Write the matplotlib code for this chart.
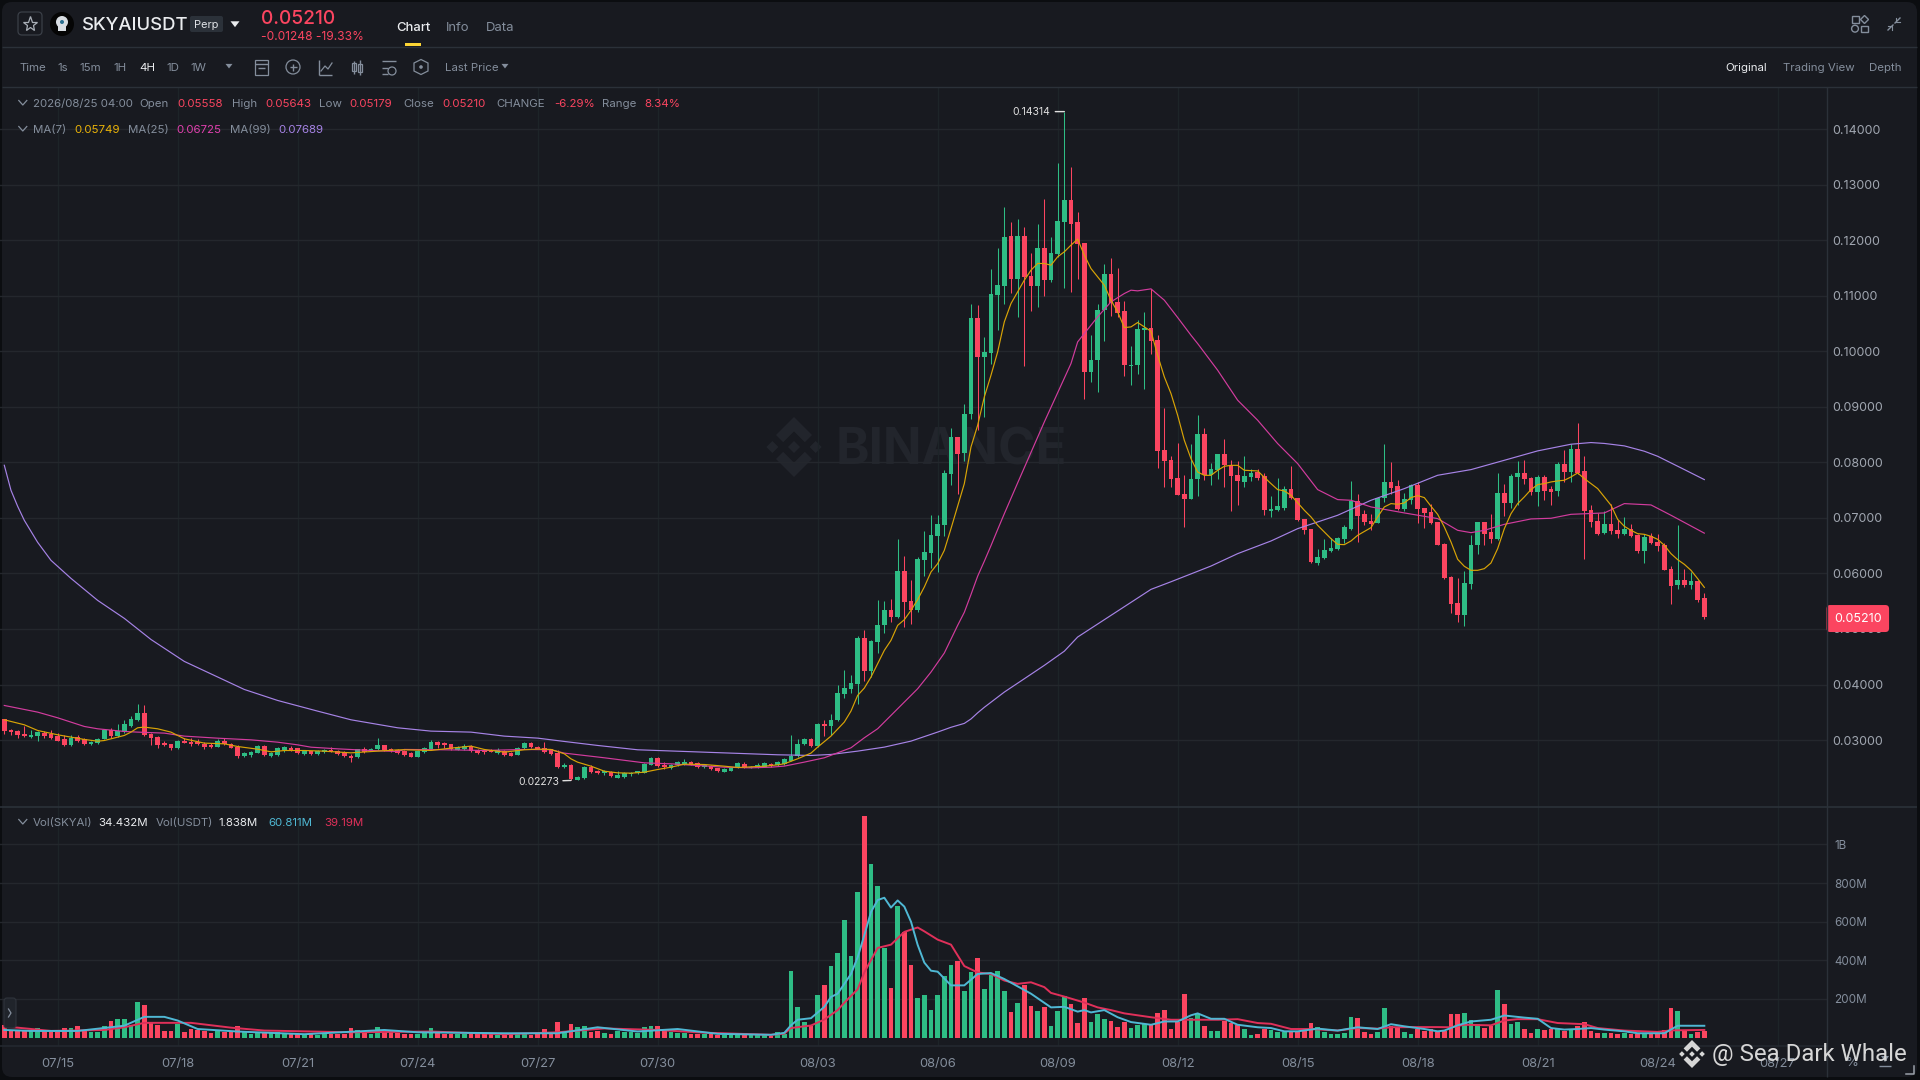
import matplotlib
matplotlib.use("Agg")
import matplotlib.pyplot as plt
from matplotlib.patches import FancyBboxPatch, Polygon, Circle, Rectangle
from matplotlib.ticker import FixedLocator, FuncFormatter

plt.rcParams['font.family'] = ['Inter', 'DejaVu Sans']

opens = [
 .03371,.03173,.03155,.03113,.03053,.03071,.03131,.03101,.03065,.03017,
 .02914,.03047,.03028,.02926,.02944,.03017,.03185,.03065,.03149,.03257,
 .03353,.03485,.03113,.03047,.02950,.02932,.02860,.02992,.02962,.02962,
 .02932,.02908,.02884,.02992,.02926,.02884,.02722,.02740,.02776,.02896,
 .02722,.02734,.02824,.02866,.02854,.02752,.02806,.02752,.02794,.02824,
 .02812,.02782,.02722,.02692,.02836,.02812,.02842,.02908,.02848,.02824,
 .02801,.02765,.02704,.02777,.02831,.02963,.02945,.02921,.02825,.02837,
 .02885,.02825,.02825,.02825,.02771,.02795,.02765,.02729,.02849,.02951,
 .02873,.02861,.02831,.02771,.02512,.02560,.02290,.02320,.02512,.02452,
 .02404,.02434,.02326,.02344,.02386,.02404,.02416,.02560,.02686,.02554,
 .02494,.02548,.02572,.02614,.02584,.02512,.02542,.02494,.02434,.02452,
 .02506,.02578,.02500,.02506,.02524,.02578,.02548,.02566,.02632,.02717,
 .02921,.03011,.02885,.03294,.03246,.03354,.03828,.03912,.04002,.04843,
 .04237,.04765,.05065,.05335,.05215,.06038,.05504,.05335,.06236,.06368,
 .06674,.06878,.07784,.08457,.08169,.08865,.10595,.09898,.09970,.11009,
 .11171,.12072,.11297,.12072,.11357,.11171,.11850,.11279,.11742,.12318,
 .12721,.12318,.11940,.09628,.09838,.10739,.11387,.10889,.10721,.09730,
 .09748,.10378,.10426,.10198,.08217,.08037,.07724,.07436,.07346,.07694,
 .08505,.07766,.07868,.08157,.07946,.07766,.07647,.07737,.07827,.07749,
 .07125,.07137,.07185,.07527,.07365,.06975,.06794,.06194,.06278,.06398,
 .06434,.06626,.06806,.07299,.07064,.06938,.06908,.07365,.07647,.07575,
 .07167,.07317,.07587,.07179,.07107,.06926,.06536,.05936,.05461,.05245,
 .05816,.06506,.06926,.06740,.06614,.07455,.07269,.07737,.07815,.07719,
 .07467,.07737,.07515,.07485,.07965,.07827,.08236,.07845,.07149,.06945,
 .06728,.06884,.06782,.06704,.06806,.06686,.06398,.06668,.06566,.06506,
 .06086,.05786,.05888,.05786,.05858,.05558]
closes = [
 .03155,.03137,.03095,.03071,.03089,.03143,.03065,.03041,.02992,.02908,
 .03041,.02992,.02932,.02962,.03028,.03185,.03065,.03161,.03281,.03371,
 .03485,.03095,.03034,.02920,.02914,.02866,.02992,.02950,.02926,.02932,
 .02884,.02872,.02992,.02932,.02866,.02722,.02764,.02794,.02896,.02728,
 .02776,.02866,.02872,.02830,.02764,.02812,.02752,.02812,.02824,.02800,
 .02752,.02710,.02680,.02842,.02794,.02848,.02914,.02824,.02800,.02764,
 .02734,.02704,.02801,.02855,.02963,.02915,.02903,.02831,.02873,.02897,
 .02795,.02771,.02783,.02783,.02813,.02729,.02717,.02861,.02951,.02867,
 .02843,.02783,.02741,.02512,.02560,.02296,.02338,.02524,.02434,.02410,
 .02452,.02350,.02374,.02404,.02416,.02440,.02578,.02686,.02530,.02512,
 .02554,.02608,.02614,.02560,.02512,.02554,.02476,.02440,.02476,.02500,
 .02584,.02506,.02524,.02548,.02584,.02530,.02602,.02668,.02722,.02933,
 .03017,.02885,.03294,.03252,.03366,.03846,.03930,.04026,.04843,.04237,
 .04783,.05077,.05335,.05209,.06038,.05486,.05347,.06254,.06380,.06698,
 .06897,.07808,.08457,.08157,.08877,.10595,.09898,.09988,.11027,.11189,
 .12060,.11297,.12072,.11339,.11171,.11850,.11279,.11760,.12342,.12721,
 .12288,.11922,.09628,.09850,.10751,.11387,.10871,.10697,.09748,.09760,
 .10396,.10420,.10180,.08205,.08025,.07706,.07418,.07346,.07706,.08505,
 .07766,.07886,.08157,.07946,.07748,.07658,.07755,.07815,.07725,.07137,
 .07167,.07209,.07527,.07353,.06957,.06776,.06206,.06296,.06416,.06464,
 .06638,.06836,.07305,.07028,.06926,.06896,.07365,.07647,.07545,.07167,
 .07347,.07587,.07155,.07095,.06908,.06518,.05918,.05443,.05245,.05828,
 .06518,.06921,.06716,.06614,.07455,.07275,.07749,.07809,.07695,.07467,
 .07731,.07485,.07467,.07965,.07827,.08236,.07815,.07125,.06933,.06716,
 .06884,.06758,.06704,.06800,.06668,.06398,.06656,.06548,.06488,.06068,
 .05774,.05888,.05786,.05858,.05527,.05210]
highs = [
 .03383,.03203,.03173,.03245,.03173,.03161,.03155,.03185,.03131,.03083,
 .03089,.03089,.03040,.02980,.03040,.03191,.03221,.03281,.03353,.03431,
 .03641,.03623,.03131,.03065,.02992,.02932,.03004,.03034,.03034,.03017,
 .02962,.02944,.03022,.03034,.02956,.02914,.02794,.02812,.02914,.02914,
 .02794,.02884,.02902,.02890,.02854,.02824,.02812,.02824,.02842,.02872,
 .02824,.02800,.02752,.02848,.02872,.02854,.03040,.02920,.02860,.02842,
 .02825,.02777,.02825,.02873,.03005,.02981,.02963,.02933,.02885,.02921,
 .02903,.02843,.02843,.02843,.02861,.02813,.02783,.02873,.02957,.02957,
 .02891,.02963,.02843,.02813,.02584,.02572,.02362,.02542,.02554,.02464,
 .02470,.02446,.02452,.02422,.02434,.02452,.02584,.02704,.02692,.02602,
 .02572,.02620,.02662,.02620,.02602,.02566,.02554,.02506,.02494,.02512,
 .02608,.02602,.02536,.02590,.02608,.02590,.02632,.02680,.03083,.03011,
 .03029,.03041,.03300,.03366,.03474,.03996,.04266,.04164,.04867,.04975,
 .04807,.05516,.05498,.05534,.06626,.06308,.05876,.06296,.06758,.07059,
 .07047,.07856,.08625,.08457,.09045,.10859,.10829,.10258,.11477,.11862,
 .12588,.12330,.12378,.12240,.11760,.12282,.12739,.12060,.13381,.14314,
 .13309,.12510,.11952,.10300,.10859,.11568,.11670,.11507,.10901,.10096,
 .10571,.10709,.11117,.10288,.08985,.08108,.08349,.07766,.08337,.08847,
 .08625,.07994,.08157,.08427,.08037,.08018,.08109,.07887,.07887,.07809,
 .07389,.07719,.07575,.07929,.07365,.06987,.06800,.06446,.06626,.06644,
 .06656,.06866,.07659,.07425,.07136,.07064,.07371,.08338,.08007,.07677,
 .07455,.07617,.07647,.07185,.07257,.06932,.06548,.05948,.05918,.06044,
 .06686,.06921,.06926,.07076,.07815,.07617,.07797,.08019,.08037,.07737,
 .07779,.07767,.07569,.08007,.08230,.08338,.08710,.08109,.07233,.07089,
 .07125,.07257,.06957,.07016,.06884,.06716,.06716,.06734,.06716,.06548,
 .06128,.06866,.06086,.06026,.05876,.05643]
lows = [
 .03112,.03083,.03034,.03053,.03040,.02992,.03040,.03022,.02980,.02896,
 .02896,.02962,.02914,.02914,.02926,.03011,.03040,.03053,.03131,.03233,
 .03341,.03071,.02920,.02854,.02902,.02830,.02842,.02944,.02896,.02920,
 .02848,.02860,.02872,.02914,.02860,.02680,.02692,.02704,.02764,.02716,
 .02692,.02716,.02794,.02812,.02752,.02734,.02728,.02740,.02764,.02782,
 .02740,.02692,.02614,.02680,.02764,.02800,.02830,.02800,.02790,.02752,
 .02722,.02692,.02692,.02765,.02813,.02861,.02861,.02813,.02813,.02825,
 .02783,.02741,.02741,.02777,.02753,.02705,.02705,.02723,.02843,.02855,
 .02831,.02765,.02729,.02500,.02500,.02273,.02280,.02308,.02416,.02398,
 .02380,.02344,.02320,.02314,.02362,.02392,.02410,.02548,.02518,.02476,
 .02476,.02542,.02554,.02548,.02500,.02494,.02470,.02434,.02422,.02446,
 .02494,.02500,.02494,.02494,.02512,.02518,.02536,.02554,.02620,.02693,
 .02903,.02873,.02873,.03066,.03084,.03342,.03762,.03846,.03642,.04056,
 .04134,.04567,.04933,.05125,.05203,.05035,.05095,.05305,.05948,.06092,
 .06026,.06674,.07598,.07436,.08025,.08787,.08577,.08817,.09778,.10391,
 .10847,.11051,.10619,.09736,.10727,.10799,.10997,.11249,.11700,.11141,
 .11069,.11309,.09148,.09448,.09268,.10180,.10637,.10619,.09550,.09400,
 .09598,.09328,.09958,.07898,.07556,.07556,.07406,.06830,.07346,.07394,
 .07676,.07586,.07706,.07556,.07124,.07226,.07557,.07665,.07689,.07059,
 .07017,.07119,.07137,.07341,.06951,.06704,.06194,.06158,.06266,.06386,
 .06416,.06548,.06776,.06566,.06866,.06776,.06902,.07287,.07437,.07149,
 .07125,.07257,.06908,.06818,.06896,.06506,.05900,.05293,.05125,.05053,
 .05726,.06356,.06506,.06548,.06608,.07028,.07185,.07227,.07617,.07407,
 .07209,.07317,.07227,.07389,.07647,.07647,.07797,.06254,.06836,.06698,
 .06716,.06716,.06638,.06686,.06656,.06374,.06188,.06536,.06398,.06056,
 .05443,.05714,.05756,.05726,.05485,.05179]
volumes_m = [
 64,41,41,37,37,51,34,34,34,51, 47,59,37,31,31,59,88,95,98,64,
 186,166,76,64,34,34,68,31,42,37, 34,25,37,31,34,61,31,20,31,31,
 27,27,20,24,20,20,17,14,17,17, 20,20,51,41,24,20,54,31,31,25,
 20,20,20,24,47,24,17,20,17,17, 24,17,17,17,14,20,17,20,17,14,
 20,42,20,78,24,68,54,61,30,34, 24,20,34,31,31,24,54,58,58,37,
 27,24,24,20,20,17,20,14,14,14, 14,14,14,14,14,10,27,17,346,156,
 80,58,222,273,370,439,610,422,754,1148, 897,786,464,258,681,544,373,205,219,144,
 219,317,376,397,239,339,412,249,322,346, 239,132,178,271,161,137,156,59,137,214,
 173,76,203,81,120,97,85,56,81,47, 63,71,63,129,142,44,80,225,102,122,
 59,36,36,85,76,64,46,14,20,46, 37,31,29,31,31,37,75,56,31,20,
 20,25,107,100,27,19,31,151,61,54, 31,19,42,34,42,31,34,120,120,129,
 90,71,47,61,246,173,71,81,46,25, 42,37,42,42,34,37,61,81,34,24,
 25,24,20,25,19,19,19,19,19,37, 154,137,37,20,31,34]

ma7_idx = [0,3,5,8,10,12,14,15,17,18,19,20,21,23,25,27,30,33,35,38,40,42,45,48,52,55,59,
 60,64,67,70,72,75,78,80,82,84,85,86,88,90,92,94,96,98,100,102,105,108,110,114,116,117,119,
 121,122,124,126,127,128,129,130,131,132,133,134,135,136,137,138,139,140,141,142,144,145,146,147,148,149,
 150,151,152,153,154,155,156,157,158,159,160,161,162,163,164,165,166,167,168,169,170,171,172,173,174,175,176,177,178,179,
 180,181,182,183,184,185,186,188,190,191,192,193,195,196,197,199,200,201,202,203,205,206,207,208,209,210,211,212,213,214,215,216,217,218,219,
 220,221,222,223,224,225,226,227,228,229,230,231,232,233,234,235,236,237,238,239,240,241,242,243,244,245,246,247,248,249,250,251,252,253,254,255]
ma7_val = [.03365,.03275,.03173,.03095,.03053,.03011,.02980,.02992,.03053,.03083,.03143,.03221,.03233,.03203,.03143,.03023,.02945,.02932,.02884,.02836,.02788,.02812,.02812,.02800,.02770,.02794,.02824,
 .02825,.02813,.02855,.02891,.02831,.02783,.02825,.02837,.02831,.02753,.02662,.02602,.02530,.02440,.02410,.02404,.02422,.02470,.02512,.02566,.02560,.02530,.02506,.02530,.02554,.02573,.02663,
 .02765,.02873,.03071,.03324,.03522,.03804,.03936,.04134,.04375,.04615,.04795,.05065,.05167,.05335,.05528,.05756,.06026,.06176,.06416,.06807,.07616,.08277,.08667,.09177,.09568,.09988,
 .10529,.10859,.11069,.11279,.11459,.11580,.11580,.11549,.11700,.11790,.11910,.12018,.11730,.11489,.11339,.11189,.10919,.10709,.10426,.10438,.10517,.10438,.10360,.09928,.09538,.09238,.08847,.08397,.08066,.07826,
 .07766,.07766,.07856,.07929,.07946,.07946,.07857,.07845,.07617,.07509,.07485,.07407,.07137,.07017,.06866,.06626,.06524,.06518,.06584,.06686,.06824,.07017,.07197,.07257,.07245,.07269,.07365,.07401,.07365,.07209,.07064,.06836,.06566,.06254,.06128,
 .06056,.06056,.06086,.06188,.06446,.06806,.07076,.07257,.07377,.07509,.07599,.07617,.07647,.07665,.07677,.07737,.07809,.07707,.07617,.07527,.07377,.07227,.06974,.06848,.06776,.06716,.06704,.06668,.06614,.06506,.06356,.06248,.06164,.06056,.05906,.05749]

ma25_idx = [0,5,8,12,14,18,20,24,27,32,37,41,44,46,50,55,59,60,66,72,78,82,84,90,96,100,104,108,112,115,117,120,123,125,127,129,131,133,135,137,139,141,143,144,145,146,147,148,149,150,152,156,160,161,164,166,168,169,170,172,174,176,178,179,182,185,188,191,194,197,200,202,205,210,215,218,220,222,225,229,232,235,240,243,247,250,255]
ma25_val = [.03623,.03503,.03401,.03245,.03203,.03155,.03143,.03125,.03071,.03034,.03004,.02962,.02914,.02872,.02842,.02812,.02794,.02831,.02825,.02813,.02831,.02825,.02765,.02681,.02590,.02572,.02542,.02512,.02500,.02512,.02531,.02603,.02681,.02771,.02861,.03041,.03204,.03444,.03684,.03924,.04224,.04567,.05065,.05300,.05620,.05950,.06220,.06500,.06790,.07075,.07630,.08727,.09778,.10168,.10619,.10889,.11039,.11099,.11087,.11123,.10919,.10607,.10288,.10138,.09658,.09118,.08758,.08338,.07977,.07509,.07329,.07317,.07197,.07089,.06987,.06776,.06734,.06776,.06884,.06981,.06993,.07064,.07089,.07257,.07233,.07047,.06725]

ma99_idx = [0,1,2,3,5,7,10,14,18,22,27,36,41,47,52,59,64,70,75,80,84,89,95,102,109,116,121,124,128,132,136,140,142,144,145,146,147,150,153,156,159,161,172,175,181,185,190,194,200,205,210,215,220,225,230,235,238,240,243,246,248,252,255]
ma99_val = [.07947,.07497,.07209,.06956,.06560,.06236,.05911,.05515,.05191,.04811,.04416,.03911,.03713,.03521,.03365,.03221,.03161,.03143,.03071,.03035,.02975,.02903,.02825,.02795,.02765,.02735,.02723,.02741,.02801,.02873,.02981,.03144,.03230,.03300,.03380,.03490,.03590,.03864,.04104,.04345,.04600,.04855,.05713,.05850,.06133,.06356,.06584,.06806,.07047,.07317,.07527,.07767,.07869,.08037,.08206,.08326,.08356,.08340,.08296,.08200,.08109,.07870,.07689]

vol_ma5_idx = [0,4,11,18,21,24,26,29,35,45,57,62,75,83,89,95,101,107,115,117,118,119,121,123,124,125,127,128,129,130,131,132,133,134,135,136,137,138,139,140,142,144,146,148,150,154,157,159,161,162,163,165,167,169,172,174,176,178,179,181,183,185,188,190,192,194,197,200,203,206,208,210,213,215,216,218,220,223,225,228,230,232,234,236,238,240,243,245,249,251,255]
vol_ma5_val = [39,34,34,61,107,107,88,44,31,17,39,27,22,22,53,31,44,19,14,24,63,92,100,159,210,227,329,415,530,650,712,724,673,710,678,600,480,388,346,341,270,270,329,334,303,227,156,159,134,142,130,142,105,80,66,83,83,115,125,97,97,66,53,49,32,32,46,36,53,44,69,58,44,32,36,63,83,92,114,103,97,49,41,44,49,41,32,22,22,61,60.8]
vol_ma10_idx = [0,2,7,15,18,21,28,34,39,52,64,75,83,90,98,105,115,117,118,120,121,123,125,126,128,129,131,133,135,137,138,140,142,144,146,148,150,152,154,156,157,159,162,164,166,168,172,175,177,182,185,188,190,193,196,200,203,206,208,212,215,217,219,223,225,227,230,233,237,239,243,248,250,255]
vol_ma10_val = [56,51,34,39,53,76,76,51,36,27,31,17,27,47,39,25,14,20,49,58,62,93,142,180,250,337,464,481,547,570,550,507,481,370,337,329,295,278,286,261,231,212,181,156,142,125,105,92,92,92,95,75,71,44,44,36,49,46,53,54,54,53,66,63,88,95,95,75,69,49,36,29,37,39.2]

price_ticks = [.03,.04,.05,.06,.07,.08,.09,.10,.11,.12,.13,.14]
vol_ticks_m = [200,400,600,800,1000]
vol_tick_labels = ['200M','400M','600M','800M','1B']
date_ticks = [8,26,44,62,80,98,122,140,158,176,194,212,230,248,266]
date_labels = ['07/15','07/18','07/21','07/24','07/27','07/30','08/03','08/06','08/09','08/12','08/15','08/18','08/21','08/24','08/27']

GREEN, RED = '#2ebd85', '#fb4560'
GRAY = '#848e9c'
PANEL = '#181a20'
LINE = '#2b3139'
GRID_H, GRID_V = '#24272d', '#1d2428'

fig = plt.figure(figsize=(19.2, 10.8), dpi=100, facecolor='#0b0d10')

def pixel_axes(z):
    a = fig.add_axes([0, 0, 1, 1], zorder=z)
    a.set_xlim(0, 1920); a.set_ylim(1080, 0); a.axis('off'); a.patch.set_alpha(0)
    return a

def logo(a, cx, cy, s, color, alpha=1.0, z=1):
    top = [(0,-1),(.6,-.4),(.36,-.16),(0,-.52),(-.36,-.16),(-.6,-.4)]
    shapes = [top, [(x,-y) for x,y in top]]
    for ox in (-.72, 0, .72):
        shapes.append([(ox,-.2),(ox+.2,0),(ox,.2),(ox-.2,0)])
    for sh in shapes:
        a.add_patch(Polygon([(cx+x*s, cy+y*s) for x,y in sh], closed=True, fc=color, ec='none', alpha=alpha, zorder=z))

bg = pixel_axes(0)
bg.add_patch(FancyBboxPatch((2,2),1915,1075,boxstyle='round,pad=0,rounding_size=10',fc=PANEL,ec='none'))
logo(bg, 794, 447, 30, '#22252c')
bg.text(951, 451, 'BINANCE', fontsize=36.5, fontweight='bold', color='#22252c', ha='center', va='center')

L, R = -0.645, 273.4
idx = list(range(len(closes)))
colors = [GREEN if c >= o else RED for o, c in zip(opens, closes)]

ax = fig.add_axes([0, (1080-806.5)/1080, 1827/1920, (806.5-87)/1080], zorder=1)
ax.patch.set_alpha(0)
ax.vlines(idx, lows, highs, colors=colors, linewidth=0.75, zorder=3)
ax.bar(idx, [abs(c-o) for o,c in zip(opens,closes)], bottom=[min(o,c) for o,c in zip(opens,closes)],
       width=0.7, color=colors, zorder=4, linewidth=0)
ax.plot(ma99_idx, ma99_val, color='#a683e6', lw=0.85, zorder=5)
ax.plot(ma25_idx, ma25_val, color='#d23c9e', lw=0.85, zorder=6)
ax.plot(ma7_idx, ma7_val, color='#d9a406', lw=0.85, zorder=7)
ax.set_xlim(L, R)
ax.set_ylim(0.01804, 0.14757)
ax.yaxis.tick_right()
ax.yaxis.set_major_locator(FixedLocator(price_ticks))
ax.yaxis.set_major_formatter(FuncFormatter(lambda v, p: f'{v:.5f}'))
ax.set_xticks(date_ticks); ax.set_xticklabels([])
ax.tick_params(length=0, labelsize=9, labelcolor='#a0a6b0', pad=4)
ax.grid(axis='y', color=GRID_H, lw=1, zorder=0)
ax.grid(axis='x', color=GRID_V, lw=1, zorder=0)
ax.set_axisbelow(True)
for s in ax.spines.values(): s.set_visible(False)

note = dict(textcoords='offset points', ha='right', va='center', fontsize=7.5, color='#e0e0e0')
ax.annotate('0.14314', xy=(159, highs[159]), xytext=(-10.5, 0),
            arrowprops=dict(arrowstyle='-', color='#e0e0e0', lw=1, shrinkA=2, shrinkB=0), **note)
ax.annotate('0.02273', xy=(85, lows[85]), xytext=(-8.8, -0.8),
            arrowprops=dict(arrowstyle='-', color='#e0e0e0', lw=1, shrinkA=1, shrinkB=0), **note)
ax.text(1.0038, closes[-1]-0.00022, '0.05210', transform=ax.get_yaxis_transform(), ha='left', va='center',
        color='white', fontsize=9, zorder=10, clip_on=False,
        bbox=dict(boxstyle='round,pad=0.6,rounding_size=0.3', fc=RED, ec='none'))

vx = fig.add_axes([0, (1080-1046)/1080, 1827/1920, (1046-807)/1080], zorder=1)
vx.patch.set_alpha(0)
vx.bar(idx, volumes_m, width=0.7, color=colors, linewidth=0, zorder=3)
vx.plot(vol_ma10_idx, vol_ma10_val, color='#e0305a', lw=1.4, zorder=4)
vx.plot(vol_ma5_idx, vol_ma5_val, color='#4fb8d4', lw=1.4, zorder=5)
vx.set_xlim(L, R)
vx.set_ylim(-44, 1194)
vx.yaxis.tick_right()
vx.set_yticks(vol_ticks_m); vx.set_yticklabels(vol_tick_labels)
vx.set_xticks(date_ticks); vx.set_xticklabels(date_labels)
vx.tick_params(axis='y', length=0, labelsize=8.4, labelcolor=GRAY, pad=5)
vx.tick_params(axis='x', length=0, labelsize=9.3, labelcolor=GRAY, pad=9)
vx.grid(axis='y', color=GRID_H, lw=1, zorder=0)
vx.grid(axis='x', color=GRID_V, lw=1, zorder=0)
vx.set_axisbelow(True)
for s in vx.spines.values(): s.set_visible(False)

fg = pixel_axes(5)
def T(x, y, s, color=GRAY, px=11.5, ha='left', weight='normal', family=None):
    t = fg.text(x, y+1.2, s, color=color, fontsize=px*0.72, ha=ha, va='center', fontweight=weight)
    if family: t.set_family(family)
def H(x0, x1, y, c=LINE, lw=1): fg.plot([x0,x1],[y,y],color=c,lw=lw,solid_capstyle='butt')
def V(x, y0, y1, c=LINE, lw=1): fg.plot([x,x],[y0,y1],color=c,lw=lw,solid_capstyle='butt')
def tri(x, y, s=4, c=GRAY):
    fg.add_patch(Polygon([(x-s,y-s*.6),(x+s,y-s*.6),(x,y+s*.7)],closed=True,fc=c,ec='none'))
def chev(x, y, c=GRAY):
    fg.plot([x-4,x,x+4],[y-2.5,y+2,y-2.5],color=c,lw=0.9)

H(2,1917,46.5); H(2,1917,86.7); H(0,1917,806.7,'#2b3139',1.2); H(0,1827,1046,'#24282f',1.2)
V(1826.5,87,1077,'#2b3139')

# header
fg.add_patch(FancyBboxPatch((18,12),24,23,boxstyle='round,pad=0,rounding_size=4',fc='none',ec='#3a3f47',lw=0.9))
fg.plot([30],[24],marker='*',ms=11,mfc='none',mec='#a8aeb6',mew=0.9)
fg.add_patch(Circle((62,24),12,fc='#050505',ec='none'))
fg.add_patch(Circle((62,22),6,fc='#d8dde2',ec='none'))
fg.add_patch(Rectangle((58,26),8,5,fc='#d8dde2',ec='none'))
fg.add_patch(Circle((62,22),2,fc='#2a6f8f',ec='none'))
T(82,24.8,'SKYAIUSDT','#eaecef',18.5,weight='medium')
fg.add_patch(FancyBboxPatch((190,16),33,16,boxstyle='round,pad=0,rounding_size=2',fc='#2b3139',ec='none'))
T(206.5,24,'Perp','#dfe2e6',11,ha='center')
tri(235,24,4.5,'#eaecef')
T(261,17.8,'0.05210',RED,19.2,weight='medium')
T(261,36,'-0.01248 -19.33%',RED,12)
T(396,27,'Chart','#eaecef',13,weight='medium')
T(446,27,'Info',GRAY,13)
T(486,27,'Data',GRAY,13)
fg.add_patch(Rectangle((405,43),16,3,fc='#fcd535',ec='none'))

# toolbar
for x, s, c in [(19,'Time',GRAY),(57,'1s',GRAY),(79.5,'15m',GRAY),(113,'1H',GRAY),(139,'4H','#eaecef'),(166,'1D',GRAY),(190,'1W',GRAY),(445,'Last Price',GRAY)]:
    T(x,67,s,c)
tri(229,66,3.5); tri(505,66,3.5)
ic = '#848e9c'
fg.add_patch(Rectangle((255,60),13,15,fc='none',ec=ic,lw=0.9)); H(255,268,63.5,ic); H(258,265,68,ic)
fg.add_patch(Circle((293,67),7,fc='none',ec=ic,lw=0.9)); H(289.5,296.5,67,ic); V(293,63.5,70.5,ic)
V(318.5,60,75,ic); H(318.5,332,75,ic); fg.plot([321,325,328,332],[71,66,69,63],color=ic,lw=0.9)
V(354,61,74,ic); V(360,60,75,ic)
fg.add_patch(Rectangle((352,63),4,8,fc=PANEL,ec=ic,lw=0.9)); fg.add_patch(Rectangle((358,64),4,8,fc=PANEL,ec=ic,lw=0.9))
H(382,396,61,ic); H(382,388,68,ic); H(382,388,74,ic); fg.add_patch(Circle((392,71),4,fc='none',ec=ic,lw=0.9))
fg.add_patch(Polygon([(421,59.5),(428,63),(428,71),(421,74.5),(414,71),(414,63)],closed=True,fc='none',ec=ic,lw=0.9))
fg.add_patch(Circle((421,67),1.8,fc=ic,ec='none'))
T(1725,67,'Original','#eaecef'); T(1783,67,'Trading View',GRAY); T(1869,67,'Depth',GRAY)
fg.add_patch(Rectangle((1852,16),6.5,6.5,fc='none',ec=ic,lw=1)); fg.add_patch(Rectangle((1861,25.5),6.5,6.5,fc='none',ec=ic,lw=1))
fg.add_patch(Circle((1855,28.7),3.4,fc='none',ec=ic,lw=1))
fg.add_patch(Polygon([(1864.5,15.5),(1868.5,19.5),(1864.5,23.5),(1860.5,19.5)],closed=True,fc='none',ec=ic,lw=1))
fg.plot([1888,1893],[30,25],color=ic,lw=1); fg.plot([1895,1900],[23,18],color=ic,lw=1)
fg.plot([1888,1892,1892],[26,26,30],color=ic,lw=0.8); fg.plot([1896,1896,1900],[18,22,22],color=ic,lw=0.8)

# OHLC rows
chev(22.8,103)
for x,s,c in [(33,'2026/08/25 04:00',GRAY),(139.6,'Open',GRAY),(177,'0.05558',RED),(231.7,'High',GRAY),(265,'0.05643',RED),
              (319,'Low',GRAY),(349,'0.05179',RED),(403,'Close',GRAY),(442,'0.05210',RED),(496,'CHANGE',GRAY),(554,'-6.29%',RED),
              (602,'Range',GRAY),(644,'8.34%',RED)]:
    T(x,103,s,c)
chev(22.8,129)
for x,s,c in [(33,'MA(7)',GRAY),(74,'0.05749','#eab308'),(128,'MA(25)',GRAY),(176,'0.06725','#e040ae'),(230,'MA(99)',GRAY),(278,'0.07689','#a683e6')]:
    T(x,129,s,c)
chev(22.8,822)
for x,s,c in [(33,'Vol(SKYAI)',GRAY),(98,'34.432M','#eaecef'),(155.5,'Vol(USDT)',GRAY),(218,'1.838M','#eaecef'),(268,'60.811M','#4fb8d4'),(324.5,'39.19M','#e0305a')]:
    T(x,822,s,c)

# collapse handle and bottom right items
fg.add_patch(FancyBboxPatch((4,998),12,30,boxstyle='round,pad=0,rounding_size=3',fc='#20242b',ec='#2f343c',lw=0.8))
fg.plot([8.5,11,8.5],[1009,1013,1017],color=GRAY,lw=0.9)
T(1852,1062,'%',GRAY,13,ha='center')
fg.add_patch(Polygon([(1881,1056),(1889,1056),(1885,1062)],closed=True,fc=GRAY,ec='none')); H(1879,1891,1066,GRAY)
fg.plot([1906,1914,1914],[1074,1074,1066],color='#9aa0a8',lw=1.1)
logo(fg, 1692, 1054, 14, '#d6d6d6', z=8)
T(1712,1053,'@ Sea Dark Whale','#d6d6d6',24,family=['Roboto','DejaVu Sans'])

fig.savefig('out.png', dpi=100, facecolor=fig.get_facecolor())
